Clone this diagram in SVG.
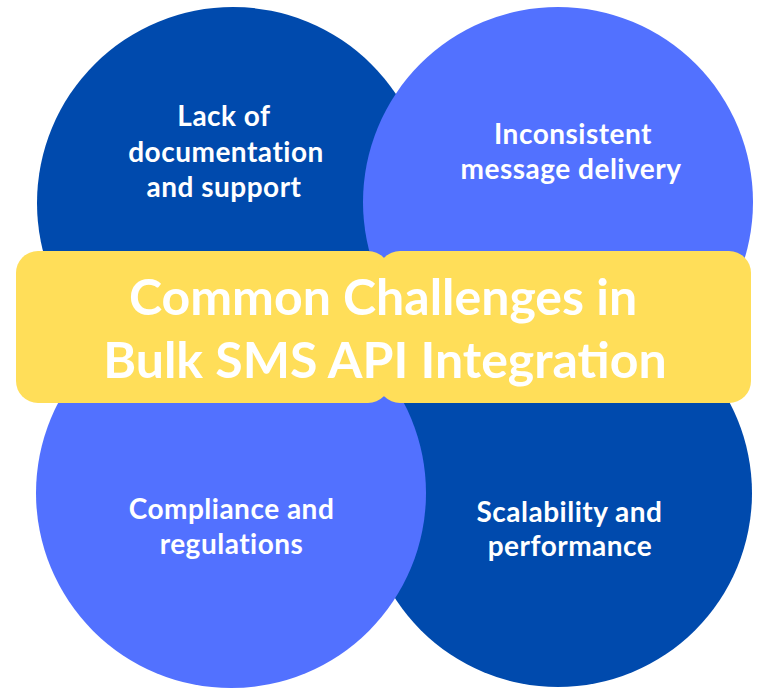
<svg xmlns="http://www.w3.org/2000/svg" width="768" height="691" viewBox="0 0 768 691">
<style>
.dark{fill:#004AAD}
.light{fill:#5271FF}
.band{fill:#FFDE59}
.lbl{font-family:Lato,"Open Sans","Liberation Sans",sans-serif;font-weight:700;font-size:28px;letter-spacing:0.5px;fill:#FFFFFF;text-anchor:middle}
.ttl{font-family:Lato,"Open Sans","Liberation Sans",sans-serif;font-weight:700;font-size:50px;fill:#FFFFFF;text-anchor:middle}
</style>
<rect width="768" height="691" fill="#FFFFFF"/>
<g id="node-documentation">
<circle class="dark" cx="233" cy="203" r="196"/>
<text class="lbl" x="224" y="126">Lack of</text>
<text class="lbl" x="226" y="161.5">documentation</text>
<text class="lbl" x="224" y="197">and support</text>
</g>
<g id="node-delivery">
<circle class="light" cx="558" cy="202" r="195"/>
<text class="lbl" x="573" y="143.5">Inconsistent</text>
<text class="lbl" x="571" y="178.5">message delivery</text>
</g>
<g id="node-scalability">
<circle class="dark" cx="558" cy="493" r="194"/>
<text class="lbl" x="569.5" y="521.5">Scalability and</text>
<text class="lbl" x="570" y="556">performance</text>
</g>
<g id="node-compliance">
<circle class="light" cx="231" cy="493" r="195"/>
<text class="lbl" x="231.5" y="518.5">Compliance and</text>
<text class="lbl" x="231.5" y="553.5">regulations</text>
</g>
<g id="node-title">
<rect class="band" x="16" y="251" width="374" height="152" rx="22" ry="22"/>
<rect class="band" x="378" y="251" width="373" height="152" rx="22" ry="22"/>
<text class="ttl" x="383" y="315">Common Challenges in</text>
<text class="ttl" x="385" y="378">Bulk SMS API Integration</text>
</g>
<g id="connectors"></g>
</svg>
